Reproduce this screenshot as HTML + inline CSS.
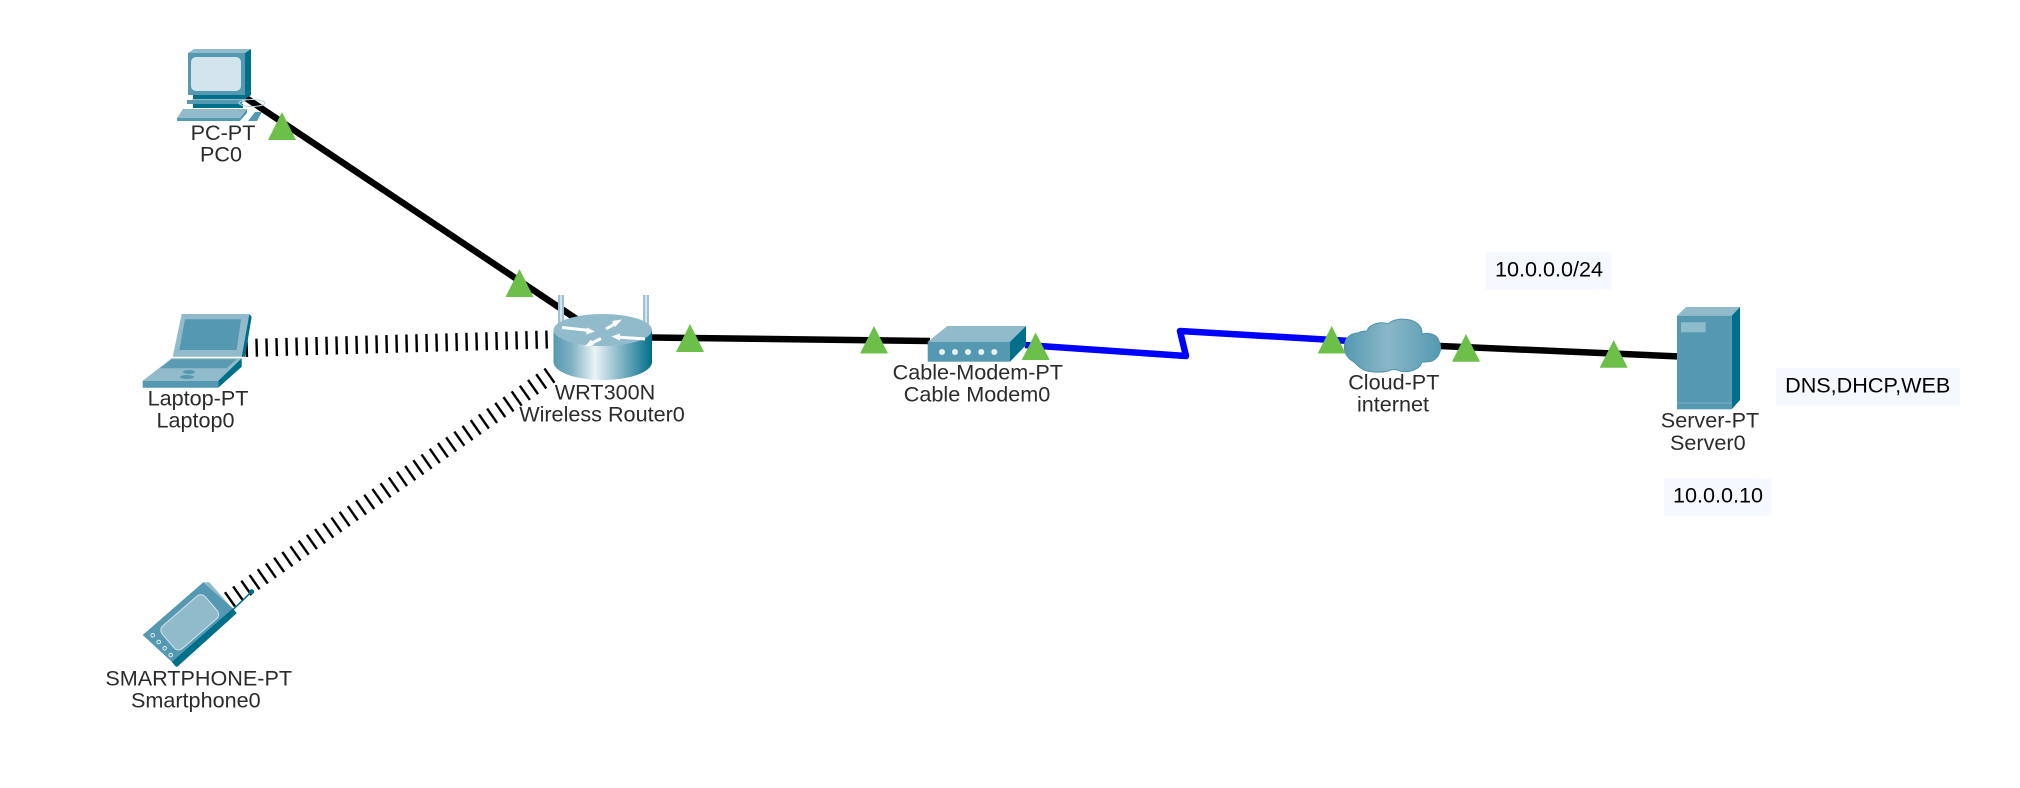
<!DOCTYPE html>
<html><head><meta charset="utf-8"><title>Network diagram</title>
<style>
html,body{margin:0;padding:0;background:#fff;width:2020px;height:788px;overflow:hidden}
svg{display:block}
text{font-family:"Liberation Sans",Arial,sans-serif;font-size:21.6px;text-anchor:middle;fill:#2b2b2b}
.k{fill:#000}
</style></head><body>
<svg width="2020" height="788" viewBox="0 0 2020 788" xmlns="http://www.w3.org/2000/svg">
<defs>
<linearGradient id="rt" x1="0" x2="1" y1="0" y2="0">
<stop offset="0" stop-color="#5499b1"/><stop offset=".18" stop-color="#7eb0c2"/><stop offset=".42" stop-color="#eaf3f6"/><stop offset=".6" stop-color="#a5c8d5"/><stop offset="1" stop-color="#006f8a"/>
</linearGradient>
<linearGradient id="cl" x1="0" x2="1" y1="0" y2="0">
<stop offset="0" stop-color="#5499b1"/><stop offset=".45" stop-color="#8ab7c7"/><stop offset="1" stop-color="#5499b1"/>
</linearGradient>
</defs>
<rect width="2020" height="788" fill="#fff"/>

<!-- connectors -->
<g fill="none" stroke="#000" stroke-width="6.5">
<line x1="246" y1="98" x2="578" y2="320"/>
<line x1="650" y1="337.5" x2="930" y2="341"/>
<line x1="1440" y1="346" x2="1680" y2="356.5"/>
</g>
<polyline points="1025,345 1186,356 1180,331 1350,341" fill="none" stroke="#0000ff" stroke-width="6.5" stroke-linejoin="round"/>
<line x1="245.5" y1="348" x2="548" y2="339.5" stroke="#000" stroke-width="18" stroke-dasharray="2.4 7.6" fill="none"/>
<line x1="229" y1="600" x2="556" y2="371" stroke="#000" stroke-width="17.5" stroke-dasharray="2.4 7.6" fill="none"/>

<!-- PC -->
<g>
<polygon points="188,53 194,49 251,49 245,53" fill="#91bbcb"/>
<polygon points="245,53 251,49 251,90 245,95" fill="#006f8a"/>
<rect x="188" y="53" width="57" height="42" fill="#5499b1"/>
<rect x="191" y="57" width="50" height="34" rx="5" fill="#d3e4ec"/>
<polygon points="193,95 245,95 251,90 251,95 245,99 193,99" fill="#006f8a"/>
<polygon points="187,104 193,99 247,99 241,104" fill="#91bbcb"/>
<rect x="187" y="100" width="55" height="4" fill="#5499b1"/>
<rect x="193" y="104" width="50" height="4" fill="#006f8a"/>
<polygon points="177,118 183,109 247,109 240,118" fill="#91bbcb"/>
<polygon points="177,118 240,118 247,109 247,113 240,121 177,121" fill="#5499b1"/>
<polygon points="248,121 255,112 262,112 257,121" fill="#5499b1"/>
<ellipse cx="252" cy="103" rx="13" ry="3.5" fill="none" stroke="#b9d6e0" stroke-width="1"/>
</g>
<text x="223" y="140">PC-PT</text>
<text x="221" y="161.7">PC0</text>

<!-- Laptop -->
<g>
<polygon points="181.7,314 249.3,314 241.7,356.7 172.7,356.7" fill="#91bbcb"/>
<polygon points="185,319.3 241,319.3 236.7,350 179.3,350" fill="#5499b1"/>
<polygon points="249.3,314 251.7,316.7 245,356.7 241.7,356.7" fill="#006f8a"/>
<polygon points="142.7,380.7 218.3,380.7 241.7,358.3 171.7,358.3" fill="#91bbcb"/>
<polygon points="171.7,359.3 236.7,359.3 226.7,368.3 160,368.3" fill="#5b9bb1"/>
<polygon points="142.7,380.7 218.3,380.7 218.3,387.7 142.7,387.7" fill="#5499b1"/>
<polygon points="218.3,380.7 241.7,358.3 241.7,366.7 218.3,387.7" fill="#006f8a"/>
<ellipse cx="187" cy="377" rx="7" ry="2" fill="#5499b1"/>
<ellipse cx="189" cy="372" rx="6" ry="2" fill="#5499b1"/>
</g>
<text x="198" y="405.7">Laptop-PT</text>
<text x="195.5" y="427.7">Laptop0</text>

<!-- Smartphone -->
<g>
<line x1="233.3" y1="609.3" x2="251.7" y2="591.7" stroke="#006f8a" stroke-width="1.5"/>
<circle cx="251.7" cy="591.7" r="2.5" fill="#006f8a"/>
<polygon points="203.3,582.3 209.3,582.3 236.7,613.3 232.7,608.3" fill="#91bbcb"/>
<polygon points="171.7,661.7 176,666.7 177.3,666.7 236.7,613.3 232.7,608.3" fill="#006f8a"/>
<polygon points="203.3,582.3 142.7,635 171.7,661.7 232.7,608.3" fill="#5499b1"/>
<rect x="161.2" y="607.3" width="57" height="30" rx="6" transform="rotate(-41 189.7 622.3)" fill="#91bbcb" stroke="#d3e4ec" stroke-width="1"/>
<g fill="#5499b1" stroke="#e0edf1" stroke-width="1">
<circle cx="152.7" cy="635.3" r="1.8"/><circle cx="158.7" cy="642" r="1.8"/><circle cx="164.7" cy="648.3" r="1.8"/><circle cx="170.7" cy="655" r="1.8"/>
</g>
</g>
<text x="198.7" y="685.7">SMARTPHONE-PT</text>
<text x="195.8" y="707.7">Smartphone0</text>

<!-- Router -->
<g>
<rect x="558" y="295" width="6" height="30" fill="#9cc3d1"/><rect x="560" y="295" width="2" height="30" fill="#d3e4ec"/>
<rect x="643" y="295" width="6" height="30" fill="#9cc3d1"/><rect x="645" y="295" width="2" height="30" fill="#d3e4ec"/>
<path d="M553.5,330 L553.5,362 A49.2,18 0 0 0 652,362 L652,330 Z" fill="url(#rt)"/>
<ellipse cx="602.7" cy="330" rx="49.2" ry="16" fill="#91bbcb"/>
<g stroke="#fff" stroke-width="3" fill="#fff">
<line x1="562" y1="327.5" x2="590" y2="330.5"/><polygon points="595,331.5 586,334.5 587,327.5" stroke="none"/>
<line x1="606" y1="329" x2="617" y2="322.5"/><polygon points="622,319.5 615,327 612,321" stroke="none"/>
<line x1="645" y1="339" x2="617" y2="337"/><polygon points="611.5,336.5 620,333.5 620,340.5" stroke="none"/>
<line x1="601" y1="338.5" x2="590" y2="344"/><polygon points="585,346.5 591,339.5 594,345" stroke="none"/>
</g>
</g>
<text x="605" y="399.3">WRT300N</text>
<text x="602" y="421.7">Wireless Router0</text>

<!-- Modem -->
<g>
<polygon points="927.7,341.7 947.3,326 1026,326 1010,341.7" fill="#91bbcb"/>
<polygon points="1010,341.7 1026,326 1026,345 1010,361.7" fill="#006f8a"/>
<rect x="927.7" y="341.7" width="82.3" height="20" fill="#5499b1"/>
<g fill="#e8f2f5"><circle cx="942" cy="352" r="3"/><circle cx="955" cy="352" r="3"/><circle cx="968" cy="352" r="3"/><circle cx="981.3" cy="352" r="3"/><circle cx="994.3" cy="352" r="3"/></g>
</g>
<text x="977.8" y="379.3">Cable-Modem-PT</text>
<text x="977" y="401.7">Cable Modem0</text>

<!-- Cloud -->
<path d="M1344.5,347 C1344,338 1351,333 1358,333 C1361,331 1364,331 1367,331 C1369,324 1381,321 1388,324 C1394,318 1410,317 1418,324 C1422,328 1422,331 1422,334 C1428,332 1437,334 1439,341 C1443,349 1439,358 1432,361 C1428,362 1425,362 1422,362 C1420,370 1408,373 1400,371 C1396,369 1392,369 1388,371 C1380,373 1370,372 1364,370 C1358,367 1356,364 1354,362 C1348,359 1344,353 1344.5,347 Z" fill="url(#cl)" stroke="#4f92aa" stroke-width="1"/>
<text x="1393.8" y="389.3">Cloud-PT</text>
<text x="1393" y="411.7">internet</text>

<!-- Server -->
<g>
<polygon points="1677,315.7 1686,307 1740,307 1731.7,315.7" fill="#91bbcb"/>
<polygon points="1731.7,315.7 1740,307 1740,400 1731.7,409.3" fill="#006f8a"/>
<rect x="1677" y="315.7" width="54.7" height="93.6" fill="#5499b1"/>
<rect x="1681" y="322.3" width="24.7" height="10" fill="#8fbccb"/>
<line x1="1677" y1="403" x2="1731.7" y2="403" stroke="#7fb0c2" stroke-width="1"/>
</g>
<text x="1710" y="427.7">Server-PT</text>
<text x="1707.8" y="450">Server0</text>

<!-- Link lights -->
<g fill="#6cc04a">
<polygon points="282,112 268,140 296,140"/>
<polygon points="519.5,269 505.5,297 533.5,297"/>
<polygon points="690,324 676,352 704,352"/>
<polygon points="874,326 860,353.5 888,353.5"/>
<polygon points="1035.7,332.5 1021.7,360 1049.7,360"/>
<polygon points="1331.7,326 1317.7,353.5 1345.7,353.5"/>
<polygon points="1466,334 1452,361.7 1480,361.7"/>
<polygon points="1613.7,340 1599.7,367.7 1627.7,367.7"/>
</g>

<!-- Notes -->
<rect x="1486" y="252.3" width="125.7" height="37.4" fill="#f6f8ff"/>
<text class="k" x="1549" y="276.7">10.0.0.0/24</text>
<rect x="1776" y="368" width="184" height="37.7" fill="#f6f8ff"/>
<text class="k" x="1867.7" y="392.7">DNS,DHCP,WEB</text>
<rect x="1664" y="478.3" width="107.7" height="37.4" fill="#f6f8ff"/>
<text class="k" x="1718" y="502.7">10.0.0.10</text>
</svg>
</body></html>
